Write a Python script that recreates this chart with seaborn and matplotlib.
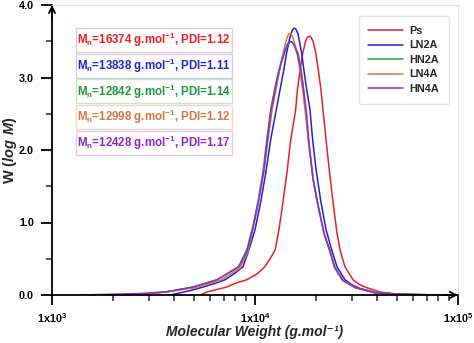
import numpy as np
import pandas as pd
import matplotlib
matplotlib.use("Agg")
import matplotlib.pyplot as plt
from matplotlib.patches import Rectangle
from matplotlib.ticker import MultipleLocator, NullFormatter, LogLocator
import seaborn as sns

# ---------------- data (log10 of molecular weight, W(log M)) ----------------
series_names = ["Ps", "LN2A", "HN2A", "LN4A", "HN4A"]

ps_logm = [3.729, 3.762, 3.803, 3.861, 3.901, 3.959, 4.010, 4.049, 4.074, 4.099, 4.118,
           4.139, 4.158, 4.176, 4.200, 4.209, 4.222, 4.235, 4.249, 4.258, 4.267, 4.276,
           4.286, 4.300, 4.312, 4.325, 4.335, 4.350, 4.367, 4.383, 4.404, 4.421, 4.443,
           4.483, 4.517, 4.552, 4.616, 4.714, 4.862]
ps_w = [0.00, 0.04, 0.07, 0.11, 0.16, 0.21, 0.29, 0.39, 0.50, 0.62, 0.90,
        1.31, 1.70, 2.14, 2.55, 2.83, 3.10, 3.33, 3.50, 3.555, 3.57, 3.555,
        3.50, 3.33, 3.10, 2.83, 2.55, 2.14, 1.70, 1.31, 0.85, 0.60, 0.39,
        0.21, 0.14, 0.10, 0.04, 0.01, 0.00]

ln2a_logm = [3.581, 3.631, 3.680, 3.744, 3.803, 3.852, 3.901, 3.941, 3.970, 4.000, 4.030,
             4.054, 4.077, 4.101, 4.128, 4.143, 4.155, 4.172, 4.183, 4.192, 4.201, 4.212,
             4.230, 4.241, 4.251, 4.271, 4.284, 4.300, 4.323, 4.350, 4.378, 4.404, 4.443,
             4.478, 4.517, 4.601, 4.714, 4.911]
ln2a_w = [0.00, 0.03, 0.06, 0.11, 0.16, 0.21, 0.30, 0.39, 0.62, 0.90, 1.31,
          1.70, 2.14, 2.50, 2.90, 3.12, 3.33, 3.55, 3.65, 3.68, 3.67, 3.60,
          3.33, 3.10, 2.90, 2.55, 2.14, 1.75, 1.31, 0.90, 0.62, 0.39, 0.21,
          0.14, 0.09, 0.03, 0.01, 0.00]

hn2a_logm = [3.350, 3.458, 3.567, 3.695, 3.813, 3.918, 3.959, 3.990, 4.016, 4.040, 4.058,
             4.077, 4.101, 4.118, 4.144, 4.160, 4.170, 4.176, 4.186, 4.197, 4.213, 4.227,
             4.239, 4.249, 4.263, 4.286, 4.304, 4.340, 4.369, 4.389, 4.429, 4.493, 4.591,
             4.714, 4.911]
hn2a_w = [0.00, 0.015, 0.045, 0.11, 0.21, 0.39, 0.62, 0.95, 1.31, 1.72, 2.14,
          2.55, 2.90, 3.10, 3.33, 3.45, 3.48, 3.49, 3.48, 3.43, 3.33, 3.10,
          2.83, 2.55, 2.14, 1.60, 1.31, 0.85, 0.62, 0.39, 0.21, 0.10, 0.03,
          0.01, 0.00]

ln4a_logm = [3.384, 3.532, 3.704, 3.828, 3.926, 3.966, 3.993, 4.020, 4.044, 4.064, 4.084,
             4.108, 4.128, 4.148, 4.160, 4.169, 4.178, 4.187, 4.207, 4.222, 4.236, 4.251,
             4.266, 4.286, 4.310, 4.340, 4.369, 4.394, 4.433, 4.498, 4.591, 4.714, 4.911]
ln4a_w = [0.00, 0.03, 0.10, 0.20, 0.37, 0.60, 0.95, 1.33, 1.72, 2.14, 2.55,
          2.90, 3.20, 3.45, 3.57, 3.61, 3.60, 3.55, 3.35, 3.10, 2.80, 2.45,
          2.05, 1.60, 1.25, 0.85, 0.60, 0.38, 0.20, 0.10, 0.03, 0.01, 0.00]

hn4a_logm = [3.138, 3.286, 3.433, 3.567, 3.695, 3.813, 3.921, 3.961, 3.990, 4.020, 4.044,
             4.061, 4.079, 4.103, 4.123, 4.148, 4.162, 4.172, 4.182, 4.192, 4.212, 4.229,
             4.241, 4.254, 4.266, 4.286, 4.310, 4.340, 4.369, 4.394, 4.433, 4.498, 4.591,
             4.714, 4.926]
hn4a_w = [0.00, 0.01, 0.02, 0.045, 0.11, 0.21, 0.39, 0.60, 0.93, 1.33, 1.72,
          2.14, 2.55, 2.90, 3.15, 3.38, 3.47, 3.50, 3.49, 3.45, 3.30, 3.05,
          2.80, 2.50, 2.10, 1.60, 1.25, 0.85, 0.60, 0.38, 0.20, 0.10, 0.03,
          0.01, 0.00]

line_colors = ["#e8202a", "#1f1fd8", "#2a9d4a", "#e0733c", "#8e2cc8"]

box_texts = [r"M$_\mathregular{n}$=16374 g.mol$^\mathregular{-1}$, PDI=1.12",
             r"M$_\mathregular{n}$=13838 g.mol$^\mathregular{-1}$, PDI=1.11",
             r"M$_\mathregular{n}$=12842 g.mol$^\mathregular{-1}$, PDI=1.14",
             r"M$_\mathregular{n}$=12998 g.mol$^\mathregular{-1}$, PDI=1.12",
             r"M$_\mathregular{n}$=12428 g.mol$^\mathregular{-1}$, PDI=1.17"]
box_text_colors = ["#ec1c24", "#2222d8", "#1e9a3c", "#d4773e", "#9022d0"]
box_edge_colors = ["#f5c8c8", "#cacaf2", "#c6e6cc", "#f2d6c6", "#decdf2"]

x_tick_values = [1e3, 1e4, 1e5]
x_tick_labels = [r"1x10$^\mathregular{3}$", r"1x10$^\mathregular{4}$", r"1x10$^\mathregular{5}$"]
y_tick_values = [0, 1, 2, 3, 4]
y_tick_labels = ["0.0", "1.0", "2.0", "3.0", "4.0"]

# ---------------- build long table ----------------
frames = []
for name, lm, w in zip(series_names,
                       [ps_logm, ln2a_logm, hn2a_logm, ln4a_logm, hn4a_logm],
                       [ps_w, ln2a_w, hn2a_w, ln4a_w, hn4a_w]):
    frames.append(pd.DataFrame({"M": 10 ** np.array(lm), "W": w, "sample": name}))
df = pd.concat(frames, ignore_index=True)

# ---------------- style ----------------
sns.set_theme(style="white")
plt.rcParams["font.family"] = ["Liberation Sans", "DejaVu Sans"]
plt.rcParams["mathtext.fontset"] = "custom"
plt.rcParams["mathtext.it"] = "Liberation Sans:italic:bold"
plt.rcParams["mathtext.rm"] = "Liberation Sans:bold"
plt.rcParams["mathtext.bf"] = "Liberation Sans:bold"

fig = plt.figure(figsize=(4.74, 3.43), dpi=100)
ax = fig.add_axes([52 / 474, 48 / 343, 406 / 474, 290 / 343])

sns.lineplot(data=df, x="M", y="W", hue="sample", hue_order=series_names,
             palette=dict(zip(series_names, line_colors)), estimator=None,
             sort=False, units="sample", linewidth=1.1, ax=ax, legend=True)

ax.set_xscale("log")
ax.set_xlim(1e3, 1e5)
ax.set_ylim(0, 4.0)

# spines
for s in ["left", "bottom"]:
    ax.spines[s].set_color("black")
    ax.spines[s].set_linewidth(1.3)
for s in ["top", "right"]:
    ax.spines[s].set_color("#e2e2e2")
    ax.spines[s].set_linewidth(1.0)

# ticks
ax.set_xticks(x_tick_values)
ax.set_xticklabels(x_tick_labels)
ax.xaxis.set_minor_locator(LogLocator(base=10, subs=np.arange(2, 10)))
ax.xaxis.set_minor_formatter(NullFormatter())
ax.set_yticks(y_tick_values)
ax.set_yticklabels(y_tick_labels)
ax.yaxis.set_minor_locator(MultipleLocator(0.5))
ax.tick_params(axis="x", which="major", direction="out", length=7, width=1.3,
               pad=5, labelsize=7.8, bottom=True, colors="black")
ax.tick_params(axis="x", which="minor", direction="out", length=4, width=1.1, bottom=True)
ax.tick_params(axis="y", which="major", direction="out", length=8, width=1.3,
               pad=5, labelsize=7.8, left=True, colors="black")
ax.tick_params(axis="y", which="minor", direction="out", length=4.3, width=1.1, left=True)
for lbl in ax.get_xticklabels() + ax.get_yticklabels():
    lbl.set_fontweight("bold")

# axis arrows
ax.annotate("", xy=(0, 1.0), xytext=(0, 0.95), xycoords="axes fraction",
            arrowprops=dict(arrowstyle="->", lw=1.3, color="black", mutation_scale=11,
                            shrinkA=0, shrinkB=0))
ax.annotate("", xy=(1.0, 0), xytext=(0.96, 0), xycoords="axes fraction",
            arrowprops=dict(arrowstyle="->", lw=1.3, color="black", mutation_scale=11,
                            shrinkA=0, shrinkB=0))

# labels
ax.set_xlabel("Molecular Weight (g.mol\u207b\u00b9)", fontsize=10,
              fontweight="bold", fontstyle="italic")
ax.xaxis.set_label_coords(0.5, -0.105)
ax.set_ylabel(r"W ($log\ M$)", fontsize=10.5, fontweight="bold")
ax.yaxis.set_label_coords(-0.082, 0.5)

# legend
leg = ax.legend(loc="upper right", bbox_to_anchor=(0.978, 0.962), borderaxespad=0,
                frameon=True, fancybox=True, edgecolor="#e4e4e4", framealpha=1,
                prop=dict(weight="bold", size=7.8), handlelength=3.2,
                labelspacing=0.42, borderpad=0.9, handletextpad=0.6)
leg.get_frame().set_linewidth(1.0)

# info boxes
box_x0 = 0.059
box_w = 0.384
box_h = 0.083
box_top_center = 0.879
box_step = 0.0885
for i, (txt, tc, ec) in enumerate(zip(box_texts, box_text_colors, box_edge_colors)):
    yc = box_top_center - i * box_step
    ax.add_patch(Rectangle((box_x0, yc - box_h / 2), box_w, box_h, transform=ax.transAxes,
                           facecolor="white", edgecolor=ec, linewidth=1.0, zorder=4))
    ax.text(box_x0 + box_w / 2, yc, txt, transform=ax.transAxes, ha="center", va="center",
            color=tc, fontsize=8.3, fontweight="bold", zorder=5)

fig.savefig("out.png", dpi=100)
